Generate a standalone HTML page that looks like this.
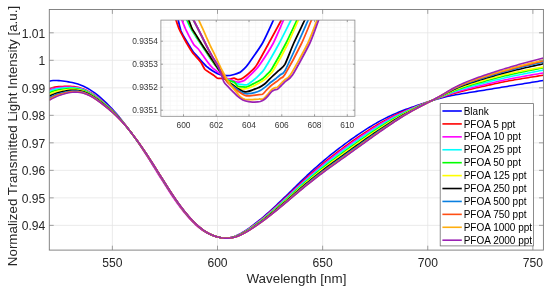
<!DOCTYPE html>
<html><head><meta charset="utf-8"><title>Normalized Transmitted Light Intensity</title>
<style>html,body{margin:0;padding:0;background:#fff;}svg{display:block}</style></head>
<body>
<svg width="550" height="291" viewBox="0 0 550 291" font-family="Liberation Sans, sans-serif">
<rect width="550" height="291" fill="#fff"/>
<defs><clipPath id="cm"><rect x="49.3" y="9.5" width="494.09999999999997" height="240.6"/></clipPath>
<clipPath id="ci"><rect x="160.9" y="20.1" width="193.99999999999997" height="96.19999999999999"/></clipPath></defs>
<path d="M112.38,9.5V250.1M217.50,9.5V250.1M322.63,9.5V250.1M427.76,9.5V250.1M532.89,9.5V250.1M49.3,225.37H543.4M49.3,197.86H543.4M49.3,170.35H543.4M49.3,142.84H543.4M49.3,115.33H543.4M49.3,87.82H543.4M49.3,60.31H543.4M49.3,32.80H543.4" stroke="#e6e6e6" stroke-width="0.8" fill="none"/>
<g clip-path="url(#cm)" fill="none" stroke-width="1.55" stroke-linejoin="round">
<path d="M49.3,81.15 L51.2,80.72 L53.1,80.49 L55.0,80.42 L56.9,80.48 L58.8,80.64 L60.7,80.85 L62.7,81.09 L64.6,81.34 L66.5,81.60 L68.4,81.88 L70.3,82.21 L72.2,82.57 L74.1,83.00 L76.0,83.48 L77.9,84.05 L79.8,84.70 L81.7,85.44 L83.6,86.28 L85.5,87.21 L87.5,88.24 L89.4,89.35 L91.3,90.55 L93.2,91.84 L95.1,93.21 L97.0,94.66 L98.9,96.20 L100.8,97.81 L102.7,99.50 L104.6,101.27 L106.5,103.10 L108.4,105.01 L110.3,106.99 L112.3,109.04 L114.2,111.15 L116.1,113.32 L118.0,115.55 L119.9,117.88 L121.8,120.24 L123.7,122.66 L125.6,125.12 L127.5,127.62 L129.4,130.17 L131.3,132.75 L133.2,135.38 L135.1,138.06 L137.1,140.76 L139.0,143.51 L140.9,146.30 L142.8,149.14 L144.7,152.02 L146.6,154.93 L148.5,157.88 L150.4,160.86 L152.3,163.88 L154.2,166.92 L156.1,169.97 L158.0,173.03 L159.9,176.09 L161.9,179.15 L163.8,182.19 L165.7,185.21 L167.6,188.19 L169.5,191.14 L171.4,194.04 L173.3,196.89 L175.2,199.67 L177.1,202.39 L179.0,205.03 L180.9,207.60 L182.8,210.08 L184.7,212.48 L186.7,214.79 L188.6,217.00 L190.5,219.12 L192.4,221.13 L194.3,223.04 L196.2,224.83 L198.1,226.51 L200.0,228.08 L201.9,229.52 L203.8,230.84 L205.7,232.05 L207.6,233.14 L209.5,234.12 L211.5,234.98 L213.4,235.74 L215.3,236.38 L217.2,236.92 L219.1,237.35 L221.0,237.67 L222.9,237.87 L224.8,237.96 L226.7,237.92 L228.6,237.75 L230.5,237.43 L232.4,236.98 L234.3,236.37 L236.3,235.64 L238.2,234.79 L240.1,233.83 L242.0,232.77 L243.9,231.63 L245.8,230.40 L247.7,229.11 L249.6,227.76 L251.5,226.37 L253.4,224.94 L255.3,223.47 L257.2,221.96 L259.1,220.42 L261.1,218.84 L263.0,217.24 L264.9,215.60 L266.8,213.93 L268.7,212.23 L270.6,210.51 L272.5,208.77 L274.4,207.00 L276.3,205.22 L278.2,203.41 L280.1,201.59 L282.0,199.76 L283.9,197.91 L285.9,196.05 L287.8,194.19 L289.7,192.32 L291.6,190.45 L293.5,188.59 L295.4,186.72 L297.3,184.86 L299.2,183.00 L301.1,181.16 L303.0,179.32 L304.9,177.51 L306.8,175.70 L308.8,173.92 L310.7,172.16 L312.6,170.41 L314.5,168.70 L316.4,167.00 L318.3,165.32 L320.2,163.67 L322.1,162.04 L324.0,160.42 L325.9,158.83 L327.8,157.25 L329.7,155.70 L331.6,154.16 L333.6,152.64 L335.5,151.14 L337.4,149.66 L339.3,148.20 L341.2,146.75 L343.1,145.32 L345.0,143.90 L346.9,142.50 L348.8,141.12 L350.7,139.75 L352.6,138.40 L354.5,137.06 L356.4,135.74 L358.4,134.43 L360.3,133.15 L362.2,131.88 L364.1,130.63 L366.0,129.40 L367.9,128.19 L369.8,127.01 L371.7,125.85 L373.6,124.71 L375.5,123.59 L377.4,122.50 L379.3,121.43 L381.2,120.40 L383.2,119.38 L385.1,118.40 L387.0,117.44 L388.9,116.51 L390.8,115.61 L392.7,114.74 L394.6,113.90 L396.5,113.09 L398.4,112.30 L400.3,111.53 L402.2,110.78 L404.1,110.05 L406.0,109.34 L408.0,108.64 L409.9,107.95 L411.8,107.28 L413.7,106.62 L415.6,105.96 L417.5,105.31 L419.4,104.67 L421.3,104.03 L423.2,103.39 L425.1,102.76 L427.0,102.13 L428.9,101.52 L430.8,100.91 L432.8,100.33 L434.7,99.75 L436.6,99.20 L438.5,98.67 L440.4,98.16 L442.3,97.68 L444.2,97.22 L446.1,96.78 L448.0,96.36 L449.9,95.96 L451.8,95.58 L453.7,95.21 L455.6,94.85 L457.6,94.51 L459.5,94.17 L461.4,93.85 L463.3,93.53 L465.2,93.22 L467.1,92.91 L469.0,92.60 L470.9,92.30 L472.8,91.99 L474.7,91.68 L476.6,91.38 L478.5,91.07 L480.4,90.76 L482.4,90.45 L484.3,90.15 L486.2,89.84 L488.1,89.53 L490.0,89.22 L491.9,88.91 L493.8,88.60 L495.7,88.29 L497.6,87.98 L499.5,87.67 L501.4,87.36 L503.3,87.05 L505.2,86.73 L507.2,86.42 L509.1,86.11 L511.0,85.80 L512.9,85.49 L514.8,85.17 L516.7,84.86 L518.6,84.55 L520.5,84.23 L522.4,83.92 L524.3,83.61 L526.2,83.29 L528.1,82.98 L530.0,82.66 L532.0,82.35 L533.9,82.03 L535.8,81.72 L537.7,81.40 L539.6,81.09 L541.5,80.77 L543.4,80.46" stroke="#0000ff"/>
<path d="M49.3,88.85 L51.2,88.11 L53.1,87.54 L55.0,87.13 L56.9,86.84 L58.8,86.64 L60.7,86.50 L62.7,86.40 L64.6,86.32 L66.5,86.27 L68.4,86.27 L70.3,86.33 L72.2,86.45 L74.1,86.64 L76.0,86.92 L77.9,87.30 L79.8,87.78 L81.7,88.37 L83.6,89.07 L85.5,89.89 L87.5,90.81 L89.4,91.84 L91.3,92.96 L93.2,94.18 L95.1,95.48 L97.0,96.87 L98.9,98.33 L100.8,99.86 L102.7,101.46 L104.6,103.12 L106.5,104.83 L108.4,106.60 L110.3,108.43 L112.3,110.32 L114.2,112.27 L116.1,114.29 L118.0,116.37 L119.9,118.47 L121.8,120.66 L123.7,122.94 L125.6,125.29 L127.5,127.71 L129.4,130.20 L131.3,132.76 L133.2,135.38 L135.1,138.05 L137.1,140.78 L139.0,143.56 L140.9,146.38 L142.8,149.23 L144.7,152.12 L146.6,155.05 L148.5,158.01 L150.4,161.00 L152.3,164.02 L154.2,167.06 L156.1,170.12 L158.0,173.19 L159.9,176.25 L161.9,179.31 L163.8,182.35 L165.7,185.36 L167.6,188.35 L169.5,191.29 L171.4,194.19 L173.3,197.03 L175.2,199.81 L177.1,202.53 L179.0,205.17 L180.9,207.73 L182.8,210.21 L184.7,212.60 L186.7,214.90 L188.6,217.11 L190.5,219.22 L192.4,221.23 L194.3,223.13 L196.2,224.92 L198.1,226.60 L200.0,228.15 L201.9,229.59 L203.8,230.91 L205.7,232.10 L207.6,233.18 L209.5,234.14 L211.5,235.00 L213.4,235.74 L215.3,236.38 L217.2,236.91 L219.1,237.34 L221.0,237.67 L222.9,237.89 L224.8,237.99 L226.7,237.97 L228.6,237.82 L230.5,237.54 L232.4,237.12 L234.3,236.55 L236.3,235.86 L238.2,235.04 L240.1,234.11 L242.0,233.09 L243.9,231.97 L245.8,230.79 L247.7,229.53 L249.6,228.22 L251.5,226.87 L253.4,225.48 L255.3,224.05 L257.2,222.58 L259.1,221.08 L261.1,219.55 L263.0,217.99 L264.9,216.39 L266.8,214.77 L268.7,213.12 L270.6,211.45 L272.5,209.76 L274.4,208.04 L276.3,206.30 L278.2,204.54 L280.1,202.77 L282.0,200.99 L283.9,199.19 L285.9,197.39 L287.8,195.57 L289.7,193.76 L291.6,191.94 L293.5,190.12 L295.4,188.31 L297.3,186.50 L299.2,184.69 L301.1,182.90 L303.0,181.12 L304.9,179.35 L306.8,177.59 L308.8,175.86 L310.7,174.14 L312.6,172.45 L314.5,170.78 L316.4,169.13 L318.3,167.50 L320.2,165.88 L322.1,164.29 L324.0,162.72 L325.9,161.16 L327.8,159.62 L329.7,158.10 L331.6,156.59 L333.6,155.10 L335.5,153.63 L337.4,152.17 L339.3,150.72 L341.2,149.29 L343.1,147.88 L345.0,146.47 L346.9,145.08 L348.8,143.70 L350.7,142.33 L352.6,140.97 L354.5,139.63 L356.4,138.30 L358.4,136.98 L360.3,135.68 L362.2,134.39 L364.1,133.12 L366.0,131.86 L367.9,130.62 L369.8,129.40 L371.7,128.20 L373.6,127.01 L375.5,125.85 L377.4,124.71 L379.3,123.59 L381.2,122.49 L383.2,121.41 L385.1,120.36 L387.0,119.33 L388.9,118.32 L390.8,117.34 L392.7,116.39 L394.6,115.47 L396.5,114.57 L398.4,113.69 L400.3,112.83 L402.2,112.00 L404.1,111.19 L406.0,110.40 L408.0,109.62 L409.9,108.85 L411.8,108.10 L413.7,107.36 L415.6,106.63 L417.5,105.90 L419.4,105.18 L421.3,104.47 L423.2,103.75 L425.1,103.04 L427.0,102.34 L428.9,101.64 L430.8,100.95 L432.8,100.27 L434.7,99.59 L436.6,98.92 L438.5,98.27 L440.4,97.62 L442.3,96.98 L444.2,96.36 L446.1,95.74 L448.0,95.14 L449.9,94.56 L451.8,93.99 L453.7,93.43 L455.6,92.90 L457.6,92.39 L459.5,91.89 L461.4,91.41 L463.3,90.94 L465.2,90.48 L467.1,90.03 L469.0,89.59 L470.9,89.15 L472.8,88.72 L474.7,88.29 L476.6,87.86 L478.5,87.43 L480.4,87.00 L482.4,86.58 L484.3,86.15 L486.2,85.73 L488.1,85.30 L490.0,84.88 L491.9,84.45 L493.8,84.03 L495.7,83.61 L497.6,83.19 L499.5,82.77 L501.4,82.35 L503.3,81.93 L505.2,81.52 L507.2,81.18 L509.1,80.84 L511.0,80.51 L512.9,80.18 L514.8,79.86 L516.7,79.53 L518.6,79.21 L520.5,78.89 L522.4,78.57 L524.3,78.26 L526.2,77.95 L528.1,77.64 L530.0,77.33 L532.0,77.03 L533.9,76.73 L535.8,76.43 L537.7,76.13 L539.6,75.84 L541.5,75.54 L543.4,75.25" stroke="#ff0000"/>
<path d="M49.3,90.06 L51.2,89.27 L53.1,88.65 L55.0,88.19 L56.9,87.84 L58.8,87.59 L60.7,87.39 L62.7,87.24 L64.6,87.11 L66.5,87.01 L68.4,86.97 L70.3,86.98 L72.2,87.06 L74.1,87.22 L76.0,87.47 L77.9,87.81 L79.8,88.26 L81.7,88.83 L83.6,89.51 L85.5,90.31 L87.5,91.22 L89.4,92.23 L91.3,93.34 L93.2,94.55 L95.1,95.84 L97.0,97.21 L98.9,98.66 L100.8,100.18 L102.7,101.77 L104.6,103.41 L106.5,105.11 L108.4,106.85 L110.3,108.66 L112.3,110.52 L114.2,112.45 L116.1,114.44 L118.0,116.49 L119.9,118.52 L121.8,120.65 L123.7,122.89 L125.6,125.23 L127.5,127.65 L129.4,130.16 L131.3,132.75 L133.2,135.41 L135.1,138.14 L137.1,140.93 L139.0,143.78 L140.9,146.66 L142.8,149.56 L144.7,152.49 L146.6,155.45 L148.5,158.44 L150.4,161.46 L152.3,164.51 L154.2,167.57 L156.1,170.65 L158.0,173.72 L159.9,176.79 L161.9,179.85 L163.8,182.90 L165.7,185.91 L167.6,188.89 L169.5,191.83 L171.4,194.72 L173.3,197.55 L175.2,200.32 L177.1,203.02 L179.0,205.64 L180.9,208.18 L182.8,210.64 L184.7,213.02 L186.7,215.30 L188.6,217.49 L190.5,219.58 L192.4,221.57 L194.3,223.46 L196.2,225.23 L198.1,226.89 L200.0,228.42 L201.9,229.84 L203.8,231.14 L205.7,232.30 L207.6,233.34 L209.5,234.27 L211.5,235.09 L213.4,235.81 L215.3,236.42 L217.2,236.94 L219.1,237.35 L221.0,237.66 L222.9,237.87 L224.8,237.97 L226.7,237.96 L228.6,237.82 L230.5,237.56 L232.4,237.16 L234.3,236.64 L236.3,235.97 L238.2,235.17 L240.1,234.25 L242.0,233.25 L243.9,232.15 L245.8,230.98 L247.7,229.74 L249.6,228.45 L251.5,227.12 L253.4,225.75 L255.3,224.34 L257.2,222.89 L259.1,221.42 L261.1,219.91 L263.0,218.36 L264.9,216.79 L266.8,215.19 L268.7,213.57 L270.6,211.92 L272.5,210.25 L274.4,208.55 L276.3,206.84 L278.2,205.11 L280.1,203.36 L282.0,201.60 L283.9,199.83 L285.9,198.05 L287.8,196.27 L289.7,194.48 L291.6,192.68 L293.5,190.89 L295.4,189.10 L297.3,187.32 L299.2,185.54 L301.1,183.77 L303.0,182.01 L304.9,180.27 L306.8,178.54 L308.8,176.83 L310.7,175.14 L312.6,173.47 L314.5,171.82 L316.4,170.19 L318.3,168.58 L320.2,166.99 L322.1,165.42 L324.0,163.86 L325.9,162.32 L327.8,160.80 L329.7,159.30 L331.6,157.81 L333.6,156.33 L335.5,154.87 L337.4,153.42 L339.3,151.99 L341.2,150.56 L343.1,149.15 L345.0,147.76 L346.9,146.37 L348.8,144.99 L350.7,143.62 L352.6,142.26 L354.5,140.92 L356.4,139.58 L358.4,138.26 L360.3,136.94 L362.2,135.64 L364.1,134.36 L366.0,133.09 L367.9,131.84 L369.8,130.60 L371.7,129.37 L373.6,128.17 L375.5,126.98 L377.4,125.81 L379.3,124.66 L381.2,123.53 L383.2,122.42 L385.1,121.34 L387.0,120.27 L388.9,119.23 L390.8,118.21 L392.7,117.22 L394.6,116.25 L396.5,115.30 L398.4,114.38 L400.3,113.48 L402.2,112.61 L404.1,111.75 L406.0,110.92 L408.0,110.09 L409.9,109.28 L411.8,108.49 L413.7,107.71 L415.6,106.93 L417.5,106.17 L419.4,105.42 L421.3,104.67 L423.2,103.92 L425.1,103.17 L427.0,102.43 L428.9,101.70 L430.8,100.97 L432.8,100.24 L434.7,99.52 L436.6,98.81 L438.5,98.10 L440.4,97.39 L442.3,96.69 L444.2,96.00 L446.1,95.31 L448.0,94.64 L449.9,93.99 L451.8,93.34 L453.7,92.72 L455.6,92.12 L457.6,91.55 L459.5,90.99 L461.4,90.46 L463.3,89.94 L465.2,89.43 L467.1,88.93 L469.0,88.45 L470.9,87.97 L472.8,87.50 L474.7,87.03 L476.6,86.56 L478.5,86.10 L480.4,85.64 L482.4,85.18 L484.3,84.72 L486.2,84.26 L488.1,83.80 L490.0,83.35 L491.9,82.90 L493.8,82.45 L495.7,81.99 L497.6,81.55 L499.5,81.10 L501.4,80.65 L503.3,80.21 L505.2,79.77 L507.2,79.40 L509.1,79.03 L511.0,78.67 L512.9,78.31 L514.8,77.95 L516.7,77.60 L518.6,77.25 L520.5,76.90 L522.4,76.56 L524.3,76.21 L526.2,75.87 L528.1,75.54 L530.0,75.21 L532.0,74.88 L533.9,74.55 L535.8,74.22 L537.7,73.90 L539.6,73.58 L541.5,73.26 L543.4,72.95" stroke="#ff00ff"/>
<path d="M49.3,91.25 L51.2,90.41 L53.1,89.75 L55.0,89.23 L56.9,88.82 L58.8,88.52 L60.7,88.27 L62.7,88.06 L64.6,87.88 L66.5,87.74 L68.4,87.65 L70.3,87.62 L72.2,87.66 L74.1,87.78 L76.0,88.00 L77.9,88.32 L79.8,88.74 L81.7,89.28 L83.6,89.95 L85.5,90.73 L87.5,91.62 L89.4,92.62 L91.3,93.72 L93.2,94.91 L95.1,96.19 L97.0,97.55 L98.9,98.99 L100.8,100.50 L102.7,102.07 L104.6,103.70 L106.5,105.37 L108.4,107.10 L110.3,108.88 L112.3,110.72 L114.2,112.62 L116.1,114.59 L118.0,116.62 L119.9,118.73 L121.8,120.91 L123.7,123.16 L125.6,125.48 L127.5,127.85 L129.4,130.29 L131.3,132.78 L133.2,135.32 L135.1,137.91 L137.1,140.56 L139.0,143.25 L140.9,145.98 L142.8,148.77 L144.7,151.60 L146.6,154.47 L148.5,157.38 L150.4,160.33 L152.3,163.32 L154.2,166.33 L156.1,169.37 L158.0,172.42 L159.9,175.47 L161.9,178.52 L163.8,181.56 L165.7,184.58 L167.6,187.57 L169.5,190.53 L171.4,193.44 L173.3,196.30 L175.2,199.10 L177.1,201.83 L179.0,204.49 L180.9,207.08 L182.8,209.58 L184.7,212.00 L186.7,214.33 L188.6,216.57 L190.5,218.70 L192.4,220.74 L194.3,222.66 L196.2,224.48 L198.1,226.18 L200.0,227.77 L201.9,229.23 L203.8,230.58 L205.7,231.81 L207.6,232.93 L209.5,233.93 L211.5,234.82 L213.4,235.61 L215.3,236.29 L217.2,236.86 L219.1,237.33 L221.0,237.69 L222.9,237.94 L224.8,238.08 L226.7,238.09 L228.6,237.97 L230.5,237.71 L232.4,237.31 L234.3,236.77 L236.3,236.10 L238.2,235.32 L240.1,234.42 L242.0,233.43 L243.9,232.36 L245.8,231.21 L247.7,229.99 L249.6,228.73 L251.5,227.42 L253.4,226.07 L255.3,224.69 L257.2,223.27 L259.1,221.81 L261.1,220.33 L263.0,218.81 L264.9,217.27 L266.8,215.70 L268.7,214.10 L270.6,212.48 L272.5,210.84 L274.4,209.17 L276.3,207.49 L278.2,205.79 L280.1,204.07 L282.0,202.34 L283.9,200.60 L285.9,198.85 L287.8,197.10 L289.7,195.34 L291.6,193.58 L293.5,191.81 L295.4,190.05 L297.3,188.30 L299.2,186.55 L301.1,184.81 L303.0,183.09 L304.9,181.37 L306.8,179.67 L308.8,177.99 L310.7,176.33 L312.6,174.69 L314.5,173.07 L316.4,171.47 L318.3,169.88 L320.2,168.32 L322.1,166.77 L324.0,165.24 L325.9,163.72 L327.8,162.22 L329.7,160.74 L331.6,159.26 L333.6,157.80 L335.5,156.36 L337.4,154.92 L339.3,153.50 L341.2,152.09 L343.1,150.69 L345.0,149.30 L346.9,147.91 L348.8,146.54 L350.7,145.17 L352.6,143.81 L354.5,142.46 L356.4,141.12 L358.4,139.78 L360.3,138.46 L362.2,137.15 L364.1,135.85 L366.0,134.57 L367.9,133.29 L369.8,132.03 L371.7,130.78 L373.6,129.55 L375.5,128.34 L377.4,127.14 L379.3,125.95 L381.2,124.79 L383.2,123.64 L385.1,122.51 L387.0,121.40 L388.9,120.31 L390.8,119.25 L392.7,118.21 L394.6,117.19 L396.5,116.19 L398.4,115.22 L400.3,114.26 L402.2,113.34 L404.1,112.43 L406.0,111.53 L408.0,110.66 L409.9,109.80 L411.8,108.95 L413.7,108.12 L415.6,107.30 L417.5,106.50 L419.4,105.70 L421.3,104.91 L423.2,104.12 L425.1,103.33 L427.0,102.54 L428.9,101.76 L430.8,100.99 L432.8,100.21 L434.7,99.44 L436.6,98.67 L438.5,97.89 L440.4,97.12 L442.3,96.34 L444.2,95.57 L446.1,94.81 L448.0,94.05 L449.9,93.31 L451.8,92.59 L453.7,91.88 L455.6,91.21 L457.6,90.56 L459.5,89.93 L461.4,89.33 L463.3,88.75 L465.2,88.19 L467.1,87.64 L469.0,87.10 L470.9,86.58 L472.8,86.06 L474.7,85.54 L476.6,85.04 L478.5,84.53 L480.4,84.03 L482.4,83.53 L484.3,83.04 L486.2,82.54 L488.1,82.05 L490.0,81.56 L491.9,81.07 L493.8,80.59 L495.7,80.11 L497.6,79.63 L499.5,79.15 L501.4,78.67 L503.3,78.20 L505.2,77.73 L507.2,77.32 L509.1,76.91 L511.0,76.50 L512.9,76.10 L514.8,75.70 L516.7,75.31 L518.6,74.92 L520.5,74.53 L522.4,74.15 L524.3,73.76 L526.2,73.39 L528.1,73.01 L530.0,72.64 L532.0,72.27 L533.9,71.91 L535.8,71.55 L537.7,71.19 L539.6,70.84 L541.5,70.48 L543.4,70.13" stroke="#00ffff"/>
<path d="M49.3,92.93 L51.2,92.02 L53.1,91.28 L55.0,90.68 L56.9,90.21 L58.8,89.82 L60.7,89.50 L62.7,89.22 L64.6,88.96 L66.5,88.75 L68.4,88.60 L70.3,88.51 L72.2,88.50 L74.1,88.58 L76.0,88.75 L77.9,89.02 L79.8,89.41 L81.7,89.92 L83.6,90.55 L85.5,91.31 L87.5,92.18 L89.4,93.16 L91.3,94.24 L93.2,95.42 L95.1,96.69 L97.0,98.03 L98.9,99.46 L100.8,100.95 L102.7,102.50 L104.6,104.10 L106.5,105.75 L108.4,107.45 L110.3,109.20 L112.3,111.00 L114.2,112.87 L116.1,114.80 L118.0,116.80 L119.9,118.87 L121.8,121.02 L123.7,123.24 L125.6,125.53 L127.5,127.89 L129.4,130.30 L131.3,132.78 L133.2,135.31 L135.1,137.90 L137.1,140.53 L139.0,143.21 L140.9,145.94 L142.8,148.72 L144.7,151.54 L146.6,154.41 L148.5,157.32 L150.4,160.26 L152.3,163.25 L154.2,166.26 L156.1,169.30 L158.0,172.34 L159.9,175.40 L161.9,178.44 L163.8,181.48 L165.7,184.50 L167.6,187.49 L169.5,190.45 L171.4,193.36 L173.3,196.22 L175.2,199.03 L177.1,201.76 L179.0,204.42 L180.9,207.01 L182.8,209.52 L184.7,211.94 L186.7,214.27 L188.6,216.51 L190.5,218.65 L192.4,220.69 L194.3,222.62 L196.2,224.44 L198.1,226.14 L200.0,227.73 L201.9,229.20 L203.8,230.54 L205.7,231.78 L207.6,232.90 L209.5,233.90 L211.5,234.80 L213.4,235.59 L215.3,236.27 L217.2,236.85 L219.1,237.32 L221.0,237.70 L222.9,237.96 L224.8,238.11 L226.7,238.13 L228.6,238.03 L230.5,237.79 L232.4,237.41 L234.3,236.90 L236.3,236.25 L238.2,235.49 L240.1,234.62 L242.0,233.65 L243.9,232.60 L245.8,231.48 L247.7,230.29 L249.6,229.05 L251.5,227.77 L253.4,226.45 L255.3,225.09 L257.2,223.70 L259.1,222.28 L261.1,220.82 L263.0,219.34 L264.9,217.83 L266.8,216.29 L268.7,214.73 L270.6,213.14 L272.5,211.53 L274.4,209.90 L276.3,208.25 L278.2,206.58 L280.1,204.90 L282.0,203.21 L283.9,201.50 L285.9,199.79 L287.8,198.07 L289.7,196.34 L291.6,194.62 L293.5,192.89 L295.4,191.17 L297.3,189.45 L299.2,187.74 L301.1,186.03 L303.0,184.34 L304.9,182.66 L306.8,181.00 L308.8,179.35 L310.7,177.72 L312.6,176.12 L314.5,174.53 L316.4,172.96 L318.3,171.40 L320.2,169.87 L322.1,168.35 L324.0,166.84 L325.9,165.35 L327.8,163.88 L329.7,162.41 L331.6,160.96 L333.6,159.52 L335.5,158.10 L337.4,156.68 L339.3,155.27 L341.2,153.87 L343.1,152.48 L345.0,151.09 L346.9,149.72 L348.8,148.34 L350.7,146.98 L352.6,145.62 L354.5,144.26 L356.4,142.91 L358.4,141.57 L360.3,140.24 L362.2,138.91 L364.1,137.59 L366.0,136.29 L367.9,134.99 L369.8,133.70 L371.7,132.43 L373.6,131.17 L375.5,129.92 L377.4,128.68 L379.3,127.46 L381.2,126.25 L383.2,125.06 L385.1,123.88 L387.0,122.72 L388.9,121.58 L390.8,120.46 L392.7,119.36 L394.6,118.28 L396.5,117.23 L398.4,116.19 L400.3,115.17 L402.2,114.18 L404.1,113.21 L406.0,112.25 L408.0,111.31 L409.9,110.39 L411.8,109.48 L413.7,108.60 L415.6,107.72 L417.5,106.87 L419.4,106.02 L421.3,105.18 L423.2,104.34 L425.1,103.50 L427.0,102.67 L428.9,101.84 L430.8,101.01 L432.8,100.18 L434.7,99.35 L436.6,98.51 L438.5,97.67 L440.4,96.83 L442.3,95.97 L444.2,95.12 L446.1,94.26 L448.0,93.42 L449.9,92.59 L451.8,91.78 L453.7,91.00 L455.6,90.24 L457.6,89.52 L459.5,88.83 L461.4,88.17 L463.3,87.53 L465.2,86.91 L467.1,86.32 L469.0,85.73 L470.9,85.16 L472.8,84.60 L474.7,84.05 L476.6,83.51 L478.5,82.97 L480.4,82.44 L482.4,81.91 L484.3,81.38 L486.2,80.86 L488.1,80.34 L490.0,79.82 L491.9,79.31 L493.8,78.80 L495.7,78.29 L497.6,77.79 L499.5,77.29 L501.4,76.80 L503.3,76.31 L505.2,75.82 L507.2,75.38 L509.1,74.95 L511.0,74.52 L512.9,74.09 L514.8,73.67 L516.7,73.25 L518.6,72.84 L520.5,72.43 L522.4,72.03 L524.3,71.63 L526.2,71.23 L528.1,70.84 L530.0,70.45 L532.0,70.06 L533.9,69.68 L535.8,69.31 L537.7,68.93 L539.6,68.56 L541.5,68.20 L543.4,67.83" stroke="#00ff00"/>
<path d="M49.3,94.53 L51.2,93.55 L53.1,92.74 L55.0,92.08 L56.9,91.52 L58.8,91.07 L60.7,90.67 L62.7,90.32 L64.6,90.00 L66.5,89.72 L68.4,89.51 L70.3,89.37 L72.2,89.31 L74.1,89.34 L76.0,89.46 L77.9,89.70 L79.8,90.05 L81.7,90.53 L83.6,91.13 L85.5,91.86 L87.5,92.71 L89.4,93.67 L91.3,94.74 L93.2,95.90 L95.1,97.16 L97.0,98.49 L98.9,99.90 L100.8,101.37 L102.7,102.90 L104.6,104.48 L106.5,106.11 L108.4,107.78 L110.3,109.50 L112.3,111.27 L114.2,113.10 L116.1,115.00 L118.0,116.96 L119.9,119.01 L121.8,121.12 L123.7,123.32 L125.6,125.59 L127.5,127.92 L129.4,130.32 L131.3,132.78 L133.2,135.30 L135.1,137.88 L137.1,140.50 L139.0,143.18 L140.9,145.90 L142.8,148.67 L144.7,151.49 L146.6,154.35 L148.5,157.25 L150.4,160.20 L152.3,163.18 L154.2,166.19 L156.1,169.22 L158.0,172.27 L159.9,175.32 L161.9,178.37 L163.8,181.40 L165.7,184.42 L167.6,187.42 L169.5,190.37 L171.4,193.29 L173.3,196.15 L175.2,198.95 L177.1,201.69 L179.0,204.36 L180.9,206.95 L182.8,209.46 L184.7,211.88 L186.7,214.22 L188.6,216.46 L190.5,218.60 L192.4,220.64 L194.3,222.57 L196.2,224.39 L198.1,226.10 L200.0,227.69 L201.9,229.16 L203.8,230.51 L205.7,231.75 L207.6,232.87 L209.5,233.88 L211.5,234.77 L213.4,235.57 L215.3,236.25 L217.2,236.84 L219.1,237.32 L221.0,237.70 L222.9,237.97 L224.8,238.13 L226.7,238.17 L228.6,238.08 L230.5,237.85 L232.4,237.49 L234.3,236.99 L236.3,236.36 L238.2,235.61 L240.1,234.76 L242.0,233.81 L243.9,232.78 L245.8,231.67 L247.7,230.50 L249.6,229.28 L251.5,228.02 L253.4,226.72 L255.3,225.38 L257.2,224.01 L259.1,222.61 L261.1,221.18 L263.0,219.72 L264.9,218.23 L266.8,216.71 L268.7,215.17 L270.6,213.61 L272.5,212.02 L274.4,210.41 L276.3,208.79 L278.2,207.15 L280.1,205.49 L282.0,203.82 L283.9,202.14 L285.9,200.45 L287.8,198.76 L289.7,197.06 L291.6,195.36 L293.5,193.66 L295.4,191.96 L297.3,190.27 L299.2,188.58 L301.1,186.90 L303.0,185.24 L304.9,183.58 L306.8,181.95 L308.8,180.32 L310.7,178.72 L312.6,177.13 L314.5,175.57 L316.4,174.02 L318.3,172.49 L320.2,170.97 L322.1,169.47 L324.0,167.99 L325.9,166.52 L327.8,165.06 L329.7,163.61 L331.6,162.18 L333.6,160.75 L335.5,159.34 L337.4,157.93 L339.3,156.53 L341.2,155.14 L343.1,153.76 L345.0,152.38 L346.9,151.00 L348.8,149.63 L350.7,148.27 L352.6,146.90 L354.5,145.55 L356.4,144.19 L358.4,142.84 L360.3,141.50 L362.2,140.17 L364.1,138.84 L366.0,137.52 L367.9,136.20 L369.8,134.90 L371.7,133.61 L373.6,132.32 L375.5,131.05 L377.4,129.79 L379.3,128.54 L381.2,127.30 L383.2,126.07 L385.1,124.86 L387.0,123.67 L388.9,122.49 L390.8,121.33 L392.7,120.19 L394.6,119.07 L396.5,117.96 L398.4,116.88 L400.3,115.82 L402.2,114.78 L404.1,113.76 L406.0,112.76 L408.0,111.78 L409.9,110.81 L411.8,109.87 L413.7,108.94 L415.6,108.03 L417.5,107.13 L419.4,106.25 L421.3,105.37 L423.2,104.50 L425.1,103.63 L427.0,102.76 L428.9,101.89 L430.8,101.02 L432.8,100.15 L434.7,99.28 L436.6,98.40 L438.5,97.51 L440.4,96.61 L442.3,95.70 L444.2,94.78 L446.1,93.87 L448.0,92.96 L449.9,92.07 L451.8,91.19 L453.7,90.35 L455.6,89.54 L457.6,88.76 L459.5,88.02 L461.4,87.31 L463.3,86.63 L465.2,85.97 L467.1,85.33 L469.0,84.71 L470.9,84.11 L472.8,83.52 L474.7,82.94 L476.6,82.37 L478.5,81.80 L480.4,81.24 L482.4,80.69 L484.3,80.14 L486.2,79.59 L488.1,79.05 L490.0,78.51 L491.9,77.98 L493.8,77.45 L495.7,76.92 L497.6,76.40 L499.5,75.89 L501.4,75.38 L503.3,74.87 L505.2,74.37 L507.2,73.95 L509.1,73.54 L511.0,73.13 L512.9,72.73 L514.8,72.34 L516.7,71.95 L518.6,71.56 L520.5,71.18 L522.4,70.81 L524.3,70.45 L526.2,70.08 L528.1,69.73 L530.0,69.38 L532.0,69.03 L533.9,68.69 L535.8,68.35 L537.7,68.02 L539.6,67.69 L541.5,67.37 L543.4,67.05" stroke="#ffff00"/>
<path d="M49.3,96.32 L51.2,95.27 L53.1,94.38 L55.0,93.63 L56.9,93.00 L58.8,92.46 L60.7,91.99 L62.7,91.55 L64.6,91.16 L66.5,90.81 L68.4,90.53 L70.3,90.33 L72.2,90.21 L74.1,90.18 L76.0,90.26 L77.9,90.45 L79.8,90.77 L81.7,91.21 L83.6,91.78 L85.5,92.49 L87.5,93.31 L89.4,94.25 L91.3,95.30 L93.2,96.45 L95.1,97.69 L97.0,99.00 L98.9,100.39 L100.8,101.85 L102.7,103.36 L104.6,104.91 L106.5,106.51 L108.4,108.15 L110.3,109.83 L112.3,111.57 L114.2,113.36 L116.1,115.22 L118.0,117.15 L119.9,119.15 L121.8,121.24 L123.7,123.40 L125.6,125.64 L127.5,127.96 L129.4,130.34 L131.3,132.79 L133.2,135.29 L135.1,137.86 L137.1,140.48 L139.0,143.14 L140.9,145.86 L142.8,148.63 L144.7,151.44 L146.6,154.29 L148.5,157.19 L150.4,160.13 L152.3,163.11 L154.2,166.12 L156.1,169.15 L158.0,172.19 L159.9,175.24 L161.9,178.29 L163.8,181.33 L165.7,184.34 L167.6,187.34 L169.5,190.30 L171.4,193.21 L173.3,196.08 L175.2,198.88 L177.1,201.62 L179.0,204.29 L180.9,206.88 L182.8,209.39 L184.7,211.82 L186.7,214.16 L188.6,216.40 L190.5,218.55 L192.4,220.59 L194.3,222.52 L196.2,224.35 L198.1,226.06 L200.0,227.65 L201.9,229.13 L203.8,230.48 L205.7,231.71 L207.6,232.84 L209.5,233.85 L211.5,234.75 L213.4,235.54 L215.3,236.23 L217.2,236.82 L219.1,237.32 L221.0,237.70 L222.9,237.99 L224.8,238.16 L226.7,238.21 L228.6,238.13 L230.5,237.92 L232.4,237.58 L234.3,237.10 L236.3,236.49 L238.2,235.76 L240.1,234.93 L242.0,234.00 L243.9,232.99 L245.8,231.90 L247.7,230.75 L249.6,229.55 L251.5,228.32 L253.4,227.04 L255.3,225.73 L257.2,224.38 L259.1,223.01 L261.1,221.60 L263.0,220.17 L264.9,218.71 L266.8,217.22 L268.7,215.70 L270.6,214.17 L272.5,212.61 L274.4,211.04 L276.3,209.44 L278.2,207.83 L280.1,206.20 L282.0,204.56 L283.9,202.91 L285.9,201.25 L287.8,199.59 L289.7,197.92 L291.6,196.25 L293.5,194.58 L295.4,192.91 L297.3,191.25 L299.2,189.60 L301.1,187.95 L303.0,186.31 L304.9,184.69 L306.8,183.08 L308.8,181.49 L310.7,179.91 L312.6,178.36 L314.5,176.82 L316.4,175.30 L318.3,173.79 L320.2,172.30 L322.1,170.83 L324.0,169.37 L325.9,167.92 L327.8,166.48 L329.7,165.05 L331.6,163.64 L333.6,162.23 L335.5,160.83 L337.4,159.44 L339.3,158.05 L341.2,156.67 L343.1,155.29 L345.0,153.92 L346.9,152.55 L348.8,151.18 L350.7,149.82 L352.6,148.45 L354.5,147.09 L356.4,145.73 L358.4,144.37 L360.3,143.02 L362.2,141.67 L364.1,140.33 L366.0,138.99 L367.9,137.66 L369.8,136.33 L371.7,135.02 L373.6,133.71 L375.5,132.40 L377.4,131.11 L379.3,129.83 L381.2,128.55 L383.2,127.29 L385.1,126.04 L387.0,124.80 L388.9,123.57 L390.8,122.36 L392.7,121.17 L394.6,120.00 L396.5,118.85 L398.4,117.72 L400.3,116.60 L402.2,115.51 L404.1,114.43 L406.0,113.37 L408.0,112.34 L409.9,111.32 L411.8,110.32 L413.7,109.34 L415.6,108.39 L417.5,107.45 L419.4,106.52 L421.3,105.60 L423.2,104.69 L425.1,103.77 L427.0,102.86 L428.9,101.95 L430.8,101.04 L432.8,100.12 L434.7,99.20 L436.6,98.27 L438.5,97.32 L440.4,96.36 L442.3,95.38 L444.2,94.39 L446.1,93.40 L448.0,92.42 L449.9,91.45 L451.8,90.50 L453.7,89.58 L455.6,88.71 L457.6,87.87 L459.5,87.07 L461.4,86.31 L463.3,85.57 L465.2,84.87 L467.1,84.19 L469.0,83.53 L470.9,82.89 L472.8,82.26 L474.7,81.65 L476.6,81.05 L478.5,80.45 L480.4,79.86 L482.4,79.28 L484.3,78.70 L486.2,78.13 L488.1,77.57 L490.0,77.01 L491.9,76.45 L493.8,75.90 L495.7,75.36 L497.6,74.82 L499.5,74.28 L501.4,73.75 L503.3,73.23 L505.2,72.71 L507.2,72.22 L509.1,71.73 L511.0,71.25 L512.9,70.77 L514.8,70.30 L516.7,69.84 L518.6,69.38 L520.5,68.92 L522.4,68.47 L524.3,68.02 L526.2,67.58 L528.1,67.15 L530.0,66.72 L532.0,66.29 L533.9,65.87 L535.8,65.45 L537.7,65.04 L539.6,64.64 L541.5,64.23 L543.4,63.83" stroke="#000000"/>
<path d="M49.3,97.91 L51.2,96.80 L53.1,95.84 L55.0,95.03 L56.9,94.32 L58.8,93.71 L60.7,93.16 L62.7,92.66 L64.6,92.19 L66.5,91.78 L68.4,91.44 L70.3,91.18 L72.2,91.01 L74.1,90.94 L76.0,90.98 L77.9,91.13 L79.8,91.41 L81.7,91.82 L83.6,92.36 L85.5,93.04 L87.5,93.85 L89.4,94.77 L91.3,95.80 L93.2,96.93 L95.1,98.16 L97.0,99.46 L98.9,100.84 L100.8,102.27 L102.7,103.76 L104.6,105.30 L106.5,106.87 L108.4,108.48 L110.3,110.13 L112.3,111.83 L114.2,113.60 L116.1,115.42 L118.0,117.32 L119.9,119.29 L121.8,121.34 L123.7,123.48 L125.6,125.70 L127.5,127.99 L129.4,130.36 L131.3,132.79 L133.2,135.28 L135.1,137.84 L137.1,140.45 L139.0,143.11 L140.9,145.82 L142.8,148.58 L144.7,151.39 L146.6,154.24 L148.5,157.13 L150.4,160.06 L152.3,163.04 L154.2,166.04 L156.1,169.07 L158.0,172.11 L159.9,175.16 L161.9,178.21 L163.8,181.25 L165.7,184.27 L167.6,187.26 L169.5,190.22 L171.4,193.14 L173.3,196.00 L175.2,198.81 L177.1,201.55 L179.0,204.22 L180.9,206.82 L182.8,209.33 L184.7,211.76 L186.7,214.10 L188.6,216.35 L190.5,218.50 L192.4,220.54 L194.3,222.48 L196.2,224.31 L198.1,226.02 L200.0,227.61 L201.9,229.09 L203.8,230.45 L205.7,231.68 L207.6,232.81 L209.5,233.82 L211.5,234.73 L213.4,235.53 L215.3,236.22 L217.2,236.82 L219.1,237.31 L221.0,237.71 L222.9,238.00 L224.8,238.17 L226.7,238.23 L228.6,238.17 L230.5,237.97 L232.4,237.64 L234.3,237.18 L236.3,236.58 L238.2,235.86 L240.1,235.04 L242.0,234.13 L243.9,233.13 L245.8,232.06 L247.7,230.92 L249.6,229.74 L251.5,228.51 L253.4,227.25 L255.3,225.96 L257.2,224.63 L259.1,223.27 L261.1,221.89 L263.0,220.47 L264.9,219.02 L266.8,217.55 L268.7,216.06 L270.6,214.54 L272.5,213.01 L274.4,211.45 L276.3,209.87 L278.2,208.28 L280.1,206.67 L282.0,205.05 L283.9,203.42 L285.9,201.79 L287.8,200.14 L289.7,198.49 L291.6,196.84 L293.5,195.20 L295.4,193.55 L297.3,191.91 L299.2,190.27 L301.1,188.65 L303.0,187.03 L304.9,185.43 L306.8,183.84 L308.8,182.26 L310.7,180.71 L312.6,179.17 L314.5,177.65 L316.4,176.15 L318.3,174.66 L320.2,173.19 L322.1,171.73 L324.0,170.28 L325.9,168.85 L327.8,167.43 L329.7,166.01 L331.6,164.61 L333.6,163.21 L335.5,161.82 L337.4,160.44 L339.3,159.06 L341.2,157.69 L343.1,156.32 L345.0,154.95 L346.9,153.58 L348.8,152.21 L350.7,150.85 L352.6,149.48 L354.5,148.12 L356.4,146.76 L358.4,145.39 L360.3,144.03 L362.2,142.68 L364.1,141.32 L366.0,139.97 L367.9,138.63 L369.8,137.29 L371.7,135.96 L373.6,134.63 L375.5,133.31 L377.4,131.99 L379.3,130.69 L381.2,129.39 L383.2,128.10 L385.1,126.82 L387.0,125.55 L388.9,124.30 L390.8,123.06 L392.7,121.83 L394.6,120.63 L396.5,119.44 L398.4,118.27 L400.3,117.12 L402.2,115.99 L404.1,114.88 L406.0,113.78 L408.0,112.71 L409.9,111.66 L411.8,110.63 L413.7,109.62 L415.6,108.63 L417.5,107.66 L419.4,106.70 L421.3,105.75 L423.2,104.81 L425.1,103.87 L427.0,102.93 L428.9,101.99 L430.8,101.05 L432.8,100.10 L434.7,99.15 L436.6,98.18 L438.5,97.19 L440.4,96.19 L442.3,95.16 L444.2,94.12 L446.1,93.08 L448.0,92.05 L449.9,91.03 L451.8,90.03 L453.7,89.06 L455.6,88.14 L457.6,87.26 L459.5,86.42 L461.4,85.62 L463.3,84.85 L465.2,84.12 L467.1,83.40 L469.0,82.72 L470.9,82.05 L472.8,81.40 L474.7,80.76 L476.6,80.13 L478.5,79.52 L480.4,78.91 L482.4,78.31 L484.3,77.71 L486.2,77.12 L488.1,76.54 L490.0,75.96 L491.9,75.39 L493.8,74.82 L495.7,74.26 L497.6,73.71 L499.5,73.16 L501.4,72.61 L503.3,72.08 L505.2,71.55 L507.2,71.02 L509.1,70.50 L511.0,69.99 L512.9,69.48 L514.8,68.97 L516.7,68.47 L518.6,67.98 L520.5,67.49 L522.4,67.01 L524.3,66.53 L526.2,66.06 L528.1,65.59 L530.0,65.13 L532.0,64.67 L533.9,64.22 L535.8,63.77 L537.7,63.33 L539.6,62.89 L541.5,62.45 L543.4,62.02" stroke="#0a7fe0"/>
<path d="M49.3,99.11 L51.2,97.94 L53.1,96.94 L55.0,96.07 L56.9,95.31 L58.8,94.64 L60.7,94.04 L62.7,93.48 L64.6,92.96 L66.5,92.51 L68.4,92.12 L70.3,91.82 L72.2,91.62 L74.1,91.51 L76.0,91.51 L77.9,91.63 L79.8,91.88 L81.7,92.27 L83.6,92.80 L85.5,93.46 L87.5,94.25 L89.4,95.16 L91.3,96.18 L93.2,97.30 L95.1,98.51 L97.0,99.80 L98.9,101.17 L100.8,102.59 L102.7,104.07 L104.6,105.59 L106.5,107.14 L108.4,108.72 L110.3,110.35 L112.3,112.03 L114.2,113.77 L116.1,115.57 L118.0,117.45 L119.9,119.40 L121.8,121.43 L123.7,123.55 L125.6,125.75 L127.5,128.03 L129.4,130.38 L131.3,132.79 L133.2,135.27 L135.1,137.81 L137.1,140.40 L139.0,143.05 L140.9,145.74 L142.8,148.49 L144.7,151.28 L146.6,154.12 L148.5,157.00 L150.4,159.93 L152.3,162.90 L154.2,165.90 L156.1,168.92 L158.0,171.96 L159.9,175.01 L161.9,178.05 L163.8,181.09 L165.7,184.11 L167.6,187.10 L169.5,190.07 L171.4,192.99 L173.3,195.86 L175.2,198.67 L177.1,201.41 L179.0,204.09 L180.9,206.69 L182.8,209.21 L184.7,211.64 L186.7,213.99 L188.6,216.24 L190.5,218.39 L192.4,220.44 L194.3,222.38 L196.2,224.22 L198.1,225.94 L200.0,227.54 L201.9,229.02 L203.8,230.38 L205.7,231.63 L207.6,232.76 L209.5,233.78 L211.5,234.69 L213.4,235.50 L215.3,236.20 L217.2,236.80 L219.1,237.31 L221.0,237.71 L222.9,238.01 L224.8,238.20 L226.7,238.27 L228.6,238.21 L230.5,238.03 L232.4,237.71 L234.3,237.25 L236.3,236.67 L238.2,235.96 L240.1,235.16 L242.0,234.25 L243.9,233.27 L245.8,232.21 L247.7,231.09 L249.6,229.92 L251.5,228.71 L253.4,227.47 L255.3,226.19 L257.2,224.88 L259.1,223.54 L261.1,222.17 L263.0,220.77 L264.9,219.34 L266.8,217.89 L268.7,216.42 L270.6,214.92 L272.5,213.40 L274.4,211.86 L276.3,210.31 L278.2,208.73 L280.1,207.14 L282.0,205.55 L283.9,203.94 L285.9,202.32 L287.8,200.69 L289.7,199.07 L291.6,197.44 L293.5,195.81 L295.4,194.18 L297.3,192.56 L299.2,190.95 L301.1,189.34 L303.0,187.75 L304.9,186.16 L306.8,184.59 L308.8,183.04 L310.7,181.50 L312.6,179.99 L314.5,178.48 L316.4,177.00 L318.3,175.53 L320.2,174.07 L322.1,172.63 L324.0,171.20 L325.9,169.78 L327.8,168.37 L329.7,166.97 L331.6,165.58 L333.6,164.19 L335.5,162.81 L337.4,161.44 L339.3,160.07 L341.2,158.70 L343.1,157.34 L345.0,155.97 L346.9,154.61 L348.8,153.25 L350.7,151.88 L352.6,150.51 L354.5,149.15 L356.4,147.78 L358.4,146.41 L360.3,145.05 L362.2,143.68 L364.1,142.32 L366.0,140.96 L367.9,139.60 L369.8,138.25 L371.7,136.90 L373.6,135.55 L375.5,134.21 L377.4,132.88 L379.3,131.55 L381.2,130.23 L383.2,128.91 L385.1,127.61 L387.0,126.31 L388.9,125.02 L390.8,123.75 L392.7,122.49 L394.6,121.25 L396.5,120.03 L398.4,118.83 L400.3,117.64 L402.2,116.47 L404.1,115.32 L406.0,114.19 L408.0,113.08 L409.9,111.99 L411.8,110.92 L413.7,109.88 L415.6,108.86 L417.5,107.86 L419.4,106.88 L421.3,105.90 L423.2,104.93 L425.1,103.97 L427.0,103.00 L428.9,102.03 L430.8,101.06 L432.8,100.09 L434.7,99.10 L436.6,98.10 L438.5,97.07 L440.4,96.03 L442.3,94.96 L444.2,93.88 L446.1,92.80 L448.0,91.72 L449.9,90.66 L451.8,89.62 L453.7,88.61 L455.6,87.65 L457.6,86.74 L459.5,85.87 L461.4,85.04 L463.3,84.25 L465.2,83.49 L467.1,82.76 L469.0,82.05 L470.9,81.36 L472.8,80.70 L474.7,80.04 L476.6,79.41 L478.5,78.78 L480.4,78.16 L482.4,77.55 L484.3,76.94 L486.2,76.34 L488.1,75.75 L490.0,75.17 L491.9,74.59 L493.8,74.02 L495.7,73.45 L497.6,72.90 L499.5,72.35 L501.4,71.80 L503.3,71.26 L505.2,70.73 L507.2,70.19 L509.1,69.66 L511.0,69.13 L512.9,68.61 L514.8,68.10 L516.7,67.59 L518.6,67.08 L520.5,66.59 L522.4,66.09 L524.3,65.61 L526.2,65.12 L528.1,64.65 L530.0,64.18 L532.0,63.71 L533.9,63.25 L535.8,62.79 L537.7,62.34 L539.6,61.90 L541.5,61.46 L543.4,61.02" stroke="#ff4f14"/>
<path d="M49.3,99.92 L51.2,98.72 L53.1,97.68 L55.0,96.77 L56.9,95.97 L58.8,95.27 L60.7,94.63 L62.7,94.04 L64.6,93.49 L66.5,93.00 L68.4,92.59 L70.3,92.26 L72.2,92.02 L74.1,91.89 L76.0,91.87 L77.9,91.97 L79.8,92.21 L81.7,92.58 L83.6,93.09 L85.5,93.74 L87.5,94.52 L89.4,95.42 L91.3,96.43 L93.2,97.54 L95.1,98.75 L97.0,100.03 L98.9,101.39 L100.8,102.81 L102.7,104.27 L104.6,105.78 L106.5,107.32 L108.4,108.89 L110.3,110.51 L112.3,112.17 L114.2,113.89 L116.1,115.67 L118.0,117.53 L119.9,119.47 L121.8,121.50 L123.7,123.61 L125.6,125.80 L127.5,128.06 L129.4,130.40 L131.3,132.80 L133.2,135.26 L135.1,137.78 L137.1,140.35 L139.0,142.98 L140.9,145.66 L142.8,148.39 L144.7,151.18 L146.6,154.00 L148.5,156.88 L150.4,159.80 L152.3,162.76 L154.2,165.75 L156.1,168.77 L158.0,171.81 L159.9,174.85 L161.9,177.90 L163.8,180.93 L165.7,183.95 L167.6,186.95 L169.5,189.91 L171.4,192.84 L173.3,195.71 L175.2,198.52 L177.1,201.27 L179.0,203.95 L180.9,206.56 L182.8,209.08 L184.7,211.52 L186.7,213.87 L188.6,216.13 L190.5,218.29 L192.4,220.34 L194.3,222.29 L196.2,224.13 L198.1,225.85 L200.0,227.46 L201.9,228.95 L203.8,230.31 L205.7,231.57 L207.6,232.71 L209.5,233.74 L211.5,234.66 L213.4,235.47 L215.3,236.18 L217.2,236.79 L219.1,237.31 L221.0,237.72 L222.9,238.02 L224.8,238.21 L226.7,238.29 L228.6,238.24 L230.5,238.05 L232.4,237.74 L234.3,237.28 L236.3,236.70 L238.2,236.00 L240.1,235.20 L242.0,234.30 L243.9,233.32 L245.8,232.27 L247.7,231.15 L249.6,229.99 L251.5,228.79 L253.4,227.55 L255.3,226.28 L257.2,224.97 L259.1,223.64 L261.1,222.27 L263.0,220.88 L264.9,219.46 L266.8,218.02 L268.7,216.55 L270.6,215.06 L272.5,213.55 L274.4,212.02 L276.3,210.47 L278.2,208.90 L280.1,207.32 L282.0,205.73 L283.9,204.13 L285.9,202.52 L287.8,200.90 L289.7,199.28 L291.6,197.66 L293.5,196.04 L295.4,194.42 L297.3,192.81 L299.2,191.20 L301.1,189.60 L303.0,188.01 L304.9,186.44 L306.8,184.88 L308.8,183.33 L310.7,181.80 L312.6,180.29 L314.5,178.80 L316.4,177.32 L318.3,175.85 L320.2,174.41 L322.1,172.97 L324.0,171.54 L325.9,170.13 L327.8,168.73 L329.7,167.33 L331.6,165.94 L333.6,164.56 L335.5,163.19 L337.4,161.82 L339.3,160.45 L341.2,159.08 L343.1,157.72 L345.0,156.36 L346.9,155.00 L348.8,153.63 L350.7,152.27 L352.6,150.90 L354.5,149.53 L356.4,148.16 L358.4,146.80 L360.3,145.43 L362.2,144.06 L364.1,142.69 L366.0,141.33 L367.9,139.96 L369.8,138.61 L371.7,137.25 L373.6,135.90 L375.5,134.55 L377.4,133.21 L379.3,131.87 L381.2,130.54 L383.2,129.22 L385.1,127.90 L387.0,126.59 L388.9,125.29 L390.8,124.01 L392.7,122.74 L394.6,121.49 L396.5,120.26 L398.4,119.04 L400.3,117.84 L402.2,116.65 L404.1,115.49 L406.0,114.35 L408.0,113.22 L409.9,112.12 L411.8,111.04 L413.7,109.99 L415.6,108.96 L417.5,107.95 L419.4,106.95 L421.3,105.97 L423.2,104.99 L425.1,104.01 L427.0,103.03 L428.9,102.05 L430.8,101.07 L432.8,100.08 L434.7,99.07 L436.6,98.06 L438.5,97.02 L440.4,95.95 L442.3,94.86 L444.2,93.76 L446.1,92.65 L448.0,91.55 L449.9,90.46 L451.8,89.39 L453.7,88.36 L455.6,87.37 L457.6,86.43 L459.5,85.54 L461.4,84.69 L463.3,83.88 L465.2,83.10 L467.1,82.35 L469.0,81.62 L470.9,80.92 L472.8,80.23 L474.7,79.56 L476.6,78.91 L478.5,78.26 L480.4,77.63 L482.4,77.00 L484.3,76.38 L486.2,75.77 L488.1,75.16 L490.0,74.56 L491.9,73.97 L493.8,73.38 L495.7,72.80 L497.6,72.23 L499.5,71.66 L501.4,71.10 L503.3,70.55 L505.2,70.00 L507.2,69.45 L509.1,68.91 L511.0,68.37 L512.9,67.84 L514.8,67.32 L516.7,66.80 L518.6,66.29 L520.5,65.78 L522.4,65.28 L524.3,64.78 L526.2,64.29 L528.1,63.81 L530.0,63.33 L532.0,62.86 L533.9,62.39 L535.8,61.93 L537.7,61.47 L539.6,61.02 L541.5,60.57 L543.4,60.13" stroke="#ffae0f"/>
<path d="M49.3,100.40 L51.2,99.18 L53.1,98.12 L55.0,97.19 L56.9,96.37 L58.8,95.64 L60.7,94.98 L62.7,94.37 L64.6,93.80 L66.5,93.29 L68.4,92.86 L70.3,92.51 L72.2,92.26 L74.1,92.12 L76.0,92.09 L77.9,92.18 L79.8,92.40 L81.7,92.76 L83.6,93.26 L85.5,93.90 L87.5,94.68 L89.4,95.57 L91.3,96.58 L93.2,97.69 L95.1,98.89 L97.0,100.17 L98.9,101.52 L100.8,102.93 L102.7,104.40 L104.6,105.90 L106.5,107.43 L108.4,108.99 L110.3,110.60 L112.3,112.25 L114.2,113.96 L116.1,115.73 L118.0,117.58 L119.9,119.51 L121.8,121.53 L123.7,123.63 L125.6,125.81 L127.5,128.07 L129.4,130.40 L131.3,132.80 L133.2,135.26 L135.1,137.78 L137.1,140.35 L139.0,142.98 L140.9,145.66 L142.8,148.39 L144.7,151.18 L146.6,154.00 L148.5,156.88 L150.4,159.80 L152.3,162.76 L154.2,165.75 L156.1,168.77 L158.0,171.81 L159.9,174.85 L161.9,177.90 L163.8,180.93 L165.7,183.95 L167.6,186.95 L169.5,189.91 L171.4,192.84 L173.3,195.71 L175.2,198.52 L177.1,201.27 L179.0,203.95 L180.9,206.56 L182.8,209.08 L184.7,211.52 L186.7,213.87 L188.6,216.13 L190.5,218.29 L192.4,220.34 L194.3,222.29 L196.2,224.13 L198.1,225.85 L200.0,227.46 L201.9,228.95 L203.8,230.31 L205.7,231.57 L207.6,232.71 L209.5,233.73 L211.5,234.65 L213.4,235.47 L215.3,236.18 L217.2,236.79 L219.1,237.30 L221.0,237.72 L222.9,238.02 L224.8,238.22 L226.7,238.30 L228.6,238.25 L230.5,238.07 L232.4,237.76 L234.3,237.31 L236.3,236.73 L238.2,236.04 L240.1,235.24 L242.0,234.35 L243.9,233.37 L245.8,232.33 L247.7,231.22 L249.6,230.06 L251.5,228.86 L253.4,227.63 L255.3,226.37 L257.2,225.07 L259.1,223.74 L261.1,222.38 L263.0,220.99 L264.9,219.58 L266.8,218.14 L268.7,216.68 L270.6,215.20 L272.5,213.70 L274.4,212.17 L276.3,210.63 L278.2,209.07 L280.1,207.50 L282.0,205.92 L283.9,204.32 L285.9,202.72 L287.8,201.11 L289.7,199.50 L291.6,197.88 L293.5,196.27 L295.4,194.66 L297.3,193.05 L299.2,191.45 L301.1,189.86 L303.0,188.28 L304.9,186.72 L306.8,185.16 L308.8,183.62 L310.7,182.10 L312.6,180.60 L314.5,179.11 L316.4,177.64 L318.3,176.18 L320.2,174.74 L322.1,173.31 L324.0,171.89 L325.9,170.48 L327.8,169.08 L329.7,167.69 L331.6,166.31 L333.6,164.93 L335.5,163.56 L337.4,162.19 L339.3,160.83 L341.2,159.47 L343.1,158.11 L345.0,156.75 L346.9,155.38 L348.8,154.02 L350.7,152.66 L352.6,151.29 L354.5,149.92 L356.4,148.55 L358.4,147.18 L360.3,145.81 L362.2,144.44 L364.1,143.06 L366.0,141.70 L367.9,140.33 L369.8,138.96 L371.7,137.60 L373.6,136.24 L375.5,134.89 L377.4,133.54 L379.3,132.19 L381.2,130.85 L383.2,129.52 L385.1,128.19 L387.0,126.87 L388.9,125.56 L390.8,124.27 L392.7,122.99 L394.6,121.72 L396.5,120.48 L398.4,119.25 L400.3,118.04 L402.2,116.84 L404.1,115.67 L406.0,114.52 L408.0,113.38 L409.9,112.27 L411.8,111.18 L413.7,110.12 L415.6,109.07 L417.5,108.05 L419.4,107.05 L421.3,106.05 L423.2,105.05 L425.1,104.06 L427.0,103.07 L428.9,102.08 L430.8,101.08 L432.8,100.07 L434.7,99.04 L436.6,98.00 L438.5,96.93 L440.4,95.84 L442.3,94.72 L444.2,93.57 L446.1,92.42 L448.0,91.28 L449.9,90.14 L451.8,89.03 L453.7,87.96 L455.6,86.92 L457.6,85.94 L459.5,85.01 L461.4,84.11 L463.3,83.26 L465.2,82.44 L467.1,81.65 L469.0,80.88 L470.9,80.14 L472.8,79.42 L474.7,78.71 L476.6,78.02 L478.5,77.34 L480.4,76.67 L482.4,76.00 L484.3,75.34 L486.2,74.69 L488.1,74.04 L490.0,73.41 L491.9,72.78 L493.8,72.15 L495.7,71.53 L497.6,70.92 L499.5,70.32 L501.4,69.72 L503.3,69.13 L505.2,68.54 L507.2,67.96 L509.1,67.39 L511.0,66.83 L512.9,66.27 L514.8,65.71 L516.7,65.16 L518.6,64.62 L520.5,64.09 L522.4,63.56 L524.3,63.03 L526.2,62.52 L528.1,62.00 L530.0,61.50 L532.0,61.00 L533.9,60.50 L535.8,60.02 L537.7,59.53 L539.6,59.05 L541.5,58.58 L543.4,58.12" stroke="#9a22b4"/>
</g>
<path d="M112.38,250.1v-4.4M112.38,9.5v4.4M217.50,250.1v-4.4M217.50,9.5v4.4M322.63,250.1v-4.4M322.63,9.5v4.4M427.76,250.1v-4.4M427.76,9.5v4.4M532.89,250.1v-4.4M532.89,9.5v4.4M49.3,225.37h4.4M543.4,225.37h-4.4M49.3,197.86h4.4M543.4,197.86h-4.4M49.3,170.35h4.4M543.4,170.35h-4.4M49.3,142.84h4.4M543.4,142.84h-4.4M49.3,115.33h4.4M543.4,115.33h-4.4M49.3,87.82h4.4M543.4,87.82h-4.4M49.3,60.31h4.4M543.4,60.31h-4.4M49.3,32.80h4.4M543.4,32.80h-4.4" stroke="#8c8c8c" stroke-width="0.8" fill="none"/>
<rect x="49.3" y="9.5" width="494.09999999999997" height="240.6" fill="none" stroke="#787878" stroke-width="0.9"/>
<g font-size="12.1" fill="#262626">
<text x="112.4" y="266.7" text-anchor="middle">550</text>
<text x="217.5" y="266.7" text-anchor="middle">600</text>
<text x="322.6" y="266.7" text-anchor="middle">650</text>
<text x="427.8" y="266.7" text-anchor="middle">700</text>
<text x="532.9" y="266.7" text-anchor="middle">750</text>
<text x="45.3" y="230.1" text-anchor="end">0.94</text>
<text x="45.3" y="202.6" text-anchor="end">0.95</text>
<text x="45.3" y="175.1" text-anchor="end">0.96</text>
<text x="45.3" y="147.6" text-anchor="end">0.97</text>
<text x="45.3" y="120.1" text-anchor="end">0.98</text>
<text x="45.3" y="92.6" text-anchor="end">0.99</text>
<text x="45.3" y="65.1" text-anchor="end">1</text>
<text x="45.3" y="37.5" text-anchor="end">1.01</text>
</g>
<text x="296.4" y="283.4" font-size="13.4" fill="#262626" text-anchor="middle">Wavelength [nm]</text>
<text transform="translate(17.2,136.0) rotate(-90)" font-size="13.35" fill="#262626" text-anchor="middle">Normalized Transmitted Light Intensity [a.u.]</text>
<rect x="160.9" y="20.1" width="193.99999999999997" height="96.19999999999999" fill="#fff"/>
<path d="M163.84,20.1V116.3M170.40,20.1V116.3M176.95,20.1V116.3M183.50,20.1V116.3M190.05,20.1V116.3M196.60,20.1V116.3M203.16,20.1V116.3M209.71,20.1V116.3M216.26,20.1V116.3M222.81,20.1V116.3M229.36,20.1V116.3M235.92,20.1V116.3M242.47,20.1V116.3M249.02,20.1V116.3M255.57,20.1V116.3M262.12,20.1V116.3M268.68,20.1V116.3M275.23,20.1V116.3M281.78,20.1V116.3M288.33,20.1V116.3M294.88,20.1V116.3M301.44,20.1V116.3M307.99,20.1V116.3M314.54,20.1V116.3M321.09,20.1V116.3M327.64,20.1V116.3M334.20,20.1V116.3M340.75,20.1V116.3M347.30,20.1V116.3M353.85,20.1V116.3M160.9,114.80H354.9M160.9,110.20H354.9M160.9,105.60H354.9M160.9,101.00H354.9M160.9,96.40H354.9M160.9,91.80H354.9M160.9,87.20H354.9M160.9,82.60H354.9M160.9,78.00H354.9M160.9,73.40H354.9M160.9,68.80H354.9M160.9,64.20H354.9M160.9,59.60H354.9M160.9,55.00H354.9M160.9,50.40H354.9M160.9,45.80H354.9M160.9,41.20H354.9M160.9,36.60H354.9M160.9,32.00H354.9M160.9,27.40H354.9M160.9,22.80H354.9" stroke="#f5f5f5" stroke-width="0.6" fill="none"/>
<path d="M183.50,20.1V116.3M216.26,20.1V116.3M249.02,20.1V116.3M281.78,20.1V116.3M314.54,20.1V116.3M347.30,20.1V116.3M160.9,110.20H354.9M160.9,87.20H354.9M160.9,64.20H354.9M160.9,41.20H354.9" stroke="#ebebeb" stroke-width="0.7" fill="none"/>
<g clip-path="url(#ci)" fill="none" stroke-width="1.75" stroke-linejoin="round">
<path d="M174.9,7.5C175.3,9.0 177.5,17.5 178.2,20.2C178.9,22.9 180.2,28.7 180.9,30.8C181.7,32.8 183.6,36.3 184.6,38.0C185.5,39.7 188.1,43.6 189.1,45.3C190.2,47.0 192.7,51.3 193.7,52.6C194.7,53.9 196.4,55.2 197.3,56.3C198.3,57.3 200.8,60.5 201.9,61.7C203.0,62.9 205.7,65.5 206.4,66.3C207.2,67.0 207.8,67.4 208.6,68.0C209.5,68.6 212.5,70.9 213.7,71.6C215.0,72.4 218.0,74.1 219.5,74.5C221.1,75.0 225.1,75.7 226.8,75.7C228.5,75.7 232.6,74.9 234.1,74.5C235.6,74.2 238.7,73.0 239.9,72.4C241.1,71.7 243.3,69.7 244.3,68.7C245.2,67.8 245.8,67.3 247.9,64.4C250.0,61.4 259.3,48.7 262.3,43.5C265.3,38.3 271.6,24.1 273.5,20.0C275.4,15.9 278.4,9.4 279.0,8.0" stroke="#0000ff"/>
<path d="M172.3,9.7C172.7,10.9 175.2,17.9 176.0,20.2C176.8,22.4 178.3,27.1 179.1,28.9C179.9,30.8 181.8,34.4 182.8,36.2C183.7,38.0 186.3,42.6 187.3,44.4C188.4,46.2 190.8,50.2 191.9,51.7C192.9,53.2 195.4,55.9 196.4,57.2C197.5,58.4 200.0,61.2 201.0,62.6C202.0,64.1 204.0,68.3 205.0,69.5C206.0,70.6 208.3,71.7 209.4,72.4C210.4,73.0 212.8,74.6 213.7,75.3C214.7,76.0 216.3,77.8 217.4,78.2C218.4,78.6 221.4,78.4 222.5,78.6C223.6,78.8 225.9,79.6 226.8,79.6C227.8,79.7 229.6,79.1 230.5,78.9C231.3,78.7 233.2,78.1 234.1,78.2C234.9,78.3 236.9,79.6 237.7,79.6C238.6,79.7 240.4,79.3 241.4,78.9C242.3,78.5 244.5,76.9 245.7,76.0C246.9,75.1 250.3,72.2 251.5,70.9C252.8,69.6 254.6,68.3 256.6,65.1C258.6,61.9 265.7,48.8 268.6,43.5C271.5,38.2 279.2,24.1 281.3,20.0C283.4,15.9 286.3,9.4 287.0,8.0" stroke="#ff0000"/>
<path d="M177.5,9.7C178.0,10.9 180.9,17.9 181.9,20.2C182.8,22.4 184.7,27.1 185.5,28.9C186.4,30.8 188.2,34.4 189.1,36.2C190.1,38.0 192.6,42.9 193.7,44.4C194.8,45.9 197.2,47.7 198.3,49.0C199.3,50.2 201.7,53.9 202.8,55.3C203.9,56.8 206.2,60.2 207.4,61.7C208.5,63.2 211.1,66.5 212.8,68.1C214.6,69.7 220.8,74.1 222.5,75.3C224.1,76.4 225.6,77.6 226.8,78.2C228.0,78.8 231.5,79.9 232.6,80.4C233.7,80.8 235.4,81.6 236.3,81.8C237.1,82.0 239.0,82.0 239.9,81.8C240.8,81.6 243.3,81.0 244.3,80.4C245.3,79.8 247.4,77.8 248.6,76.7C249.8,75.6 253.2,72.3 254.5,70.9C255.7,69.6 257.4,68.3 259.5,65.1C261.7,61.9 270.3,48.8 273.1,43.5C275.9,38.2 281.7,24.1 283.6,20.0C285.5,15.9 288.4,9.4 289.0,8.0" stroke="#ff00ff"/>
<path d="M181.7,9.7C182.3,10.9 185.7,17.9 186.8,20.2C187.9,22.4 189.9,27.1 191.0,28.9C192.0,30.8 194.4,34.5 195.5,36.2C196.6,37.9 199.2,41.7 200.4,43.5C201.6,45.3 204.6,49.8 205.9,51.7C207.2,53.6 210.2,58.3 211.4,59.9C212.5,61.5 213.9,63.6 215.6,65.7C217.2,67.9 223.5,76.4 225.4,78.2C227.2,80.0 229.9,80.5 231.2,81.1C232.5,81.7 234.9,82.8 236.3,83.3C237.6,83.7 241.5,84.6 242.8,84.7C244.1,84.9 246.2,85.1 247.2,84.7C248.2,84.4 250.5,82.6 251.5,81.8C252.6,81.1 254.9,79.1 255.9,78.2C256.9,77.2 259.3,74.9 260.3,73.8C261.3,72.7 262.4,72.3 264.6,68.7C266.8,65.2 276.0,49.2 279.1,43.5C282.2,37.8 288.9,24.1 291.0,20.0C293.1,15.9 296.3,9.4 297.0,8.0" stroke="#00ffff"/>
<path d="M182.3,9.7C182.9,10.9 186.2,17.9 187.3,20.2C188.4,22.4 190.5,27.1 191.5,28.9C192.5,30.8 195.0,34.5 196.1,36.2C197.1,37.9 199.6,41.7 200.8,43.5C202.0,45.3 205.0,49.8 206.3,51.7C207.5,53.6 210.6,58.2 211.7,59.9C212.9,61.6 214.3,64.0 216.1,66.3C217.9,68.6 224.7,77.8 226.8,79.6C228.9,81.5 232.8,81.1 234.1,81.8C235.4,82.6 236.7,85.6 237.7,86.2C238.7,86.8 241.7,86.8 242.8,86.9C243.9,87.0 246.2,87.2 247.2,86.9C248.2,86.7 250.4,85.3 251.5,84.7C252.7,84.1 256.0,82.6 257.4,81.8C258.7,81.1 262.0,79.1 263.2,78.2C264.4,77.2 266.5,74.9 267.5,73.8C268.6,72.7 269.8,72.3 271.9,68.7C274.0,65.2 282.9,49.2 285.8,43.5C288.7,37.8 295.0,24.1 297.0,20.0C299.0,15.9 302.3,9.4 303.0,8.0" stroke="#00ff00"/>
<path d="M184.4,9.7C184.9,10.9 187.7,17.9 188.6,20.2C189.5,22.4 191.1,27.1 192.1,28.9C193.0,30.8 195.5,34.5 196.6,36.2C197.7,37.9 200.0,41.7 201.2,43.5C202.3,45.3 205.4,49.8 206.6,51.7C207.9,53.6 210.9,58.2 212.1,59.9C213.3,61.6 214.9,64.2 216.6,66.6C218.4,69.0 224.9,78.3 226.8,80.4C228.8,82.5 232.0,83.8 233.4,84.7C234.7,85.7 237.4,87.9 238.5,88.4C239.6,88.9 241.8,89.1 242.8,89.1C243.8,89.1 246.0,88.7 247.2,88.4C248.4,88.0 251.6,86.8 253.0,86.2C254.4,85.6 257.5,84.0 258.8,83.3C260.2,82.5 263.4,80.6 264.6,79.6C265.8,78.7 268.0,76.4 269.0,75.3C270.0,74.2 271.1,73.9 273.4,70.2C275.6,66.5 285.1,49.4 288.0,43.5C290.9,37.6 296.6,24.1 298.5,20.0C300.4,15.9 303.4,9.4 304.0,8.0" stroke="#ffff00"/>
<path d="M184.6,9.7C185.1,10.9 187.9,17.9 188.8,20.2C189.7,22.4 191.3,27.1 192.2,28.9C193.2,30.8 195.7,34.5 196.8,36.2C197.9,37.9 200.2,41.7 201.3,43.5C202.5,45.3 205.5,49.8 206.8,51.7C208.1,53.6 211.1,58.1 212.3,59.9C213.4,61.7 215.1,64.4 216.8,66.8C218.5,69.2 224.9,78.5 226.8,80.7C228.7,82.8 232.0,84.5 233.4,85.5C234.7,86.4 237.4,88.4 238.5,89.1C239.6,89.8 241.8,91.0 242.8,91.3C243.8,91.6 246.0,91.9 247.2,91.7C248.4,91.5 251.6,90.3 253.0,89.8C254.4,89.3 257.5,88.3 258.8,87.6C260.2,87.0 263.4,84.9 264.6,84.0C265.8,83.1 268.0,80.7 269.0,79.6C270.0,78.6 272.2,76.4 273.4,75.3C274.6,74.2 277.8,71.5 279.2,70.2C280.5,68.9 283.2,67.5 284.9,64.4C286.5,61.3 291.3,48.7 293.6,43.5C295.9,38.3 302.9,24.1 304.8,20.0C306.7,15.9 309.4,9.4 310.0,8.0" stroke="#000000"/>
<path d="M189.0,11.9C189.5,12.8 192.4,18.4 193.3,20.2C194.3,22.0 196.0,25.2 197.0,27.1C197.9,29.0 200.4,33.9 201.5,36.2C202.7,38.6 205.7,44.7 207.0,47.1C208.3,49.6 211.2,54.9 212.5,57.2C213.7,59.4 216.2,63.5 217.9,66.3C219.6,69.1 224.9,78.7 226.8,81.1C228.7,83.5 232.6,85.7 234.1,86.9C235.6,88.1 238.7,90.5 239.9,91.3C241.1,92.0 243.3,93.2 244.3,93.5C245.3,93.7 247.4,93.8 248.6,93.7C249.8,93.7 253.1,93.1 254.5,92.7C255.8,92.4 259.0,91.2 260.3,90.5C261.5,89.9 264.2,87.8 265.4,86.9C266.6,86.0 269.2,83.6 270.5,82.5C271.7,81.5 275.1,79.1 276.3,78.2C277.5,77.2 279.6,75.4 280.6,74.5C281.6,73.7 282.9,74.5 284.9,70.9C286.8,67.3 295.0,49.4 297.7,43.5C300.4,37.6 306.4,24.1 308.2,20.0C310.0,15.9 312.4,9.4 313.0,8.0" stroke="#0a7fe0"/>
<path d="M189.1,11.9C189.7,12.8 192.6,18.4 193.5,20.2C194.5,22.0 196.2,25.2 197.2,27.1C198.1,29.0 200.5,33.9 201.7,36.2C202.9,38.6 205.9,44.7 207.2,47.1C208.5,49.6 211.4,54.9 212.6,57.2C213.9,59.4 216.5,63.4 218.1,66.3C219.8,69.1 225.0,78.9 226.8,81.5C228.7,84.1 232.4,87.0 234.1,88.4C235.8,89.8 240.0,92.6 241.4,93.5C242.7,94.3 244.5,95.4 245.7,95.6C246.9,95.9 250.2,95.7 251.5,95.6C252.9,95.6 256.1,95.1 257.4,94.9C258.6,94.7 261.4,94.7 262.5,94.2C263.5,93.7 265.1,91.6 266.1,90.5C267.1,89.5 270.0,86.5 271.2,85.5C272.4,84.4 275.2,82.7 276.3,81.8C277.4,81.0 279.6,79.0 280.6,78.2C281.6,77.3 282.4,78.6 284.9,74.5C287.3,70.5 298.4,49.9 301.5,43.5C304.6,37.1 309.7,24.1 311.5,20.0C313.3,15.9 316.4,9.4 317.0,8.0" stroke="#ff4f14"/>
<path d="M194.0,9.7C194.6,10.9 197.8,17.9 198.8,20.2C199.8,22.4 201.9,27.0 202.8,28.9C203.7,30.9 205.6,35.2 206.4,37.1C207.3,39.0 209.1,43.3 210.1,45.3C211.0,47.3 213.7,52.4 214.6,54.4C215.6,56.4 217.5,61.0 218.3,62.6C219.0,64.2 219.9,65.9 221.0,68.1C222.2,70.3 226.7,79.4 228.3,81.8C229.8,84.3 232.7,87.4 234.1,89.1C235.4,90.8 238.6,95.2 239.9,96.4C241.2,97.6 243.6,98.9 245.0,99.3C246.4,99.6 249.9,99.6 251.5,99.6C253.2,99.5 257.5,99.0 258.8,99.0C260.2,98.9 262.2,99.5 263.2,99.0C264.2,98.5 266.4,95.9 267.3,94.9C268.2,93.9 270.0,91.1 270.9,90.3C271.7,89.4 273.8,88.3 274.5,87.9C275.3,87.6 276.7,87.6 277.4,87.1C278.2,86.5 280.2,84.3 281.1,83.4C281.9,82.6 283.5,80.8 284.6,79.8C285.6,78.8 287.6,79.2 290.3,75.0C293.0,70.8 304.6,49.9 307.7,43.5C310.8,37.1 315.4,24.1 317.1,20.0C318.8,15.9 321.4,9.4 322.0,8.0" stroke="#ffae0f"/>
<path d="M189.3,11.9C189.8,12.8 192.8,18.4 193.7,20.2C194.6,22.0 196.4,25.2 197.3,27.1C198.3,29.0 200.7,33.9 201.9,36.2C203.1,38.6 206.1,44.7 207.4,47.1C208.6,49.6 211.5,54.9 212.8,57.2C214.1,59.4 217.0,63.4 218.3,66.3C219.6,69.1 222.7,79.4 223.9,81.8C225.1,84.2 227.3,85.8 228.3,86.9C229.3,88.0 231.5,90.2 232.6,91.3C233.7,92.4 236.5,95.3 237.7,96.4C238.9,97.4 241.5,99.4 242.8,100.0C244.1,100.6 247.3,101.5 248.6,101.7C250.0,102.0 253.1,102.1 254.5,102.0C255.8,102.0 259.1,101.8 260.3,101.5C261.5,101.1 263.7,100.0 264.6,99.3C265.6,98.6 267.4,96.6 268.3,95.6C269.1,94.7 271.1,92.0 271.9,91.3C272.7,90.6 274.1,90.1 274.8,89.8C275.5,89.6 277.0,89.6 277.7,89.1C278.5,88.6 280.5,86.3 281.4,85.5C282.2,84.6 283.6,83.0 284.9,81.8C286.2,80.6 289.6,79.5 292.5,75.0C295.4,70.5 306.6,49.9 309.7,43.5C312.8,37.1 317.0,24.1 318.7,20.0C320.4,15.9 323.4,9.4 324.0,8.0" stroke="#9a22b4"/>
</g>
<path d="M183.50,116.3v-2M183.50,20.1v2M216.26,116.3v-2M216.26,20.1v2M249.02,116.3v-2M249.02,20.1v2M281.78,116.3v-2M281.78,20.1v2M314.54,116.3v-2M314.54,20.1v2M347.30,116.3v-2M347.30,20.1v2M160.9,110.20h2M354.9,110.20h-2M160.9,87.20h2M354.9,87.20h-2M160.9,64.20h2M354.9,64.20h-2M160.9,41.20h2M354.9,41.20h-2" stroke="#787878" stroke-width="0.7" fill="none"/>
<rect x="160.9" y="20.1" width="193.99999999999997" height="96.19999999999999" fill="none" stroke="#8a8a8a" stroke-width="0.8"/>
<g font-size="8.4" fill="#383838">
<text x="183.5" y="127.7" text-anchor="middle">600</text>
<text x="216.3" y="127.7" text-anchor="middle">602</text>
<text x="249.0" y="127.7" text-anchor="middle">604</text>
<text x="281.8" y="127.7" text-anchor="middle">606</text>
<text x="314.5" y="127.7" text-anchor="middle">608</text>
<text x="347.3" y="127.7" text-anchor="middle">610</text>
<text x="157.8" y="113.4" text-anchor="end">0.9351</text>
<text x="157.8" y="90.4" text-anchor="end">0.9352</text>
<text x="157.8" y="67.4" text-anchor="end">0.9353</text>
<text x="157.8" y="44.4" text-anchor="end">0.9354</text>
</g>
<rect x="440.2" y="103.6" width="93.30000000000001" height="142.3" fill="#fff" stroke="#707070" stroke-width="0.8"/>
<g font-size="10" fill="#000">
<path d="M442.4,111.00H461.8" stroke="#0000ff" stroke-width="1.6"/>
<text x="463.7" y="114.6">Blank</text>
<path d="M442.4,123.92H461.8" stroke="#ff0000" stroke-width="1.6"/>
<text x="463.7" y="127.5">PFOA 5 ppt</text>
<path d="M442.4,136.84H461.8" stroke="#ff00ff" stroke-width="1.6"/>
<text x="463.7" y="140.4">PFOA 10 ppt</text>
<path d="M442.4,149.76H461.8" stroke="#00ffff" stroke-width="1.6"/>
<text x="463.7" y="153.4">PFOA 25 ppt</text>
<path d="M442.4,162.68H461.8" stroke="#00ff00" stroke-width="1.6"/>
<text x="463.7" y="166.3">PFOA 50 ppt</text>
<path d="M442.4,175.60H461.8" stroke="#ffff00" stroke-width="1.6"/>
<text x="463.7" y="179.2">PFOA 125 ppt</text>
<path d="M442.4,188.52H461.8" stroke="#000000" stroke-width="1.6"/>
<text x="463.7" y="192.1">PFOA 250 ppt</text>
<path d="M442.4,201.44H461.8" stroke="#0a7fe0" stroke-width="1.6"/>
<text x="463.7" y="205.0">PFOA 500 ppt</text>
<path d="M442.4,214.36H461.8" stroke="#ff4f14" stroke-width="1.6"/>
<text x="463.7" y="218.0">PFOA 750 ppt</text>
<path d="M442.4,227.28H461.8" stroke="#ffae0f" stroke-width="1.6"/>
<text x="463.7" y="230.9">PFOA 1000 ppt</text>
<path d="M442.4,240.20H461.8" stroke="#9a22b4" stroke-width="1.6"/>
<text x="463.7" y="243.8">PFOA 2000 ppt</text>
</g>
</svg>
</body></html>
